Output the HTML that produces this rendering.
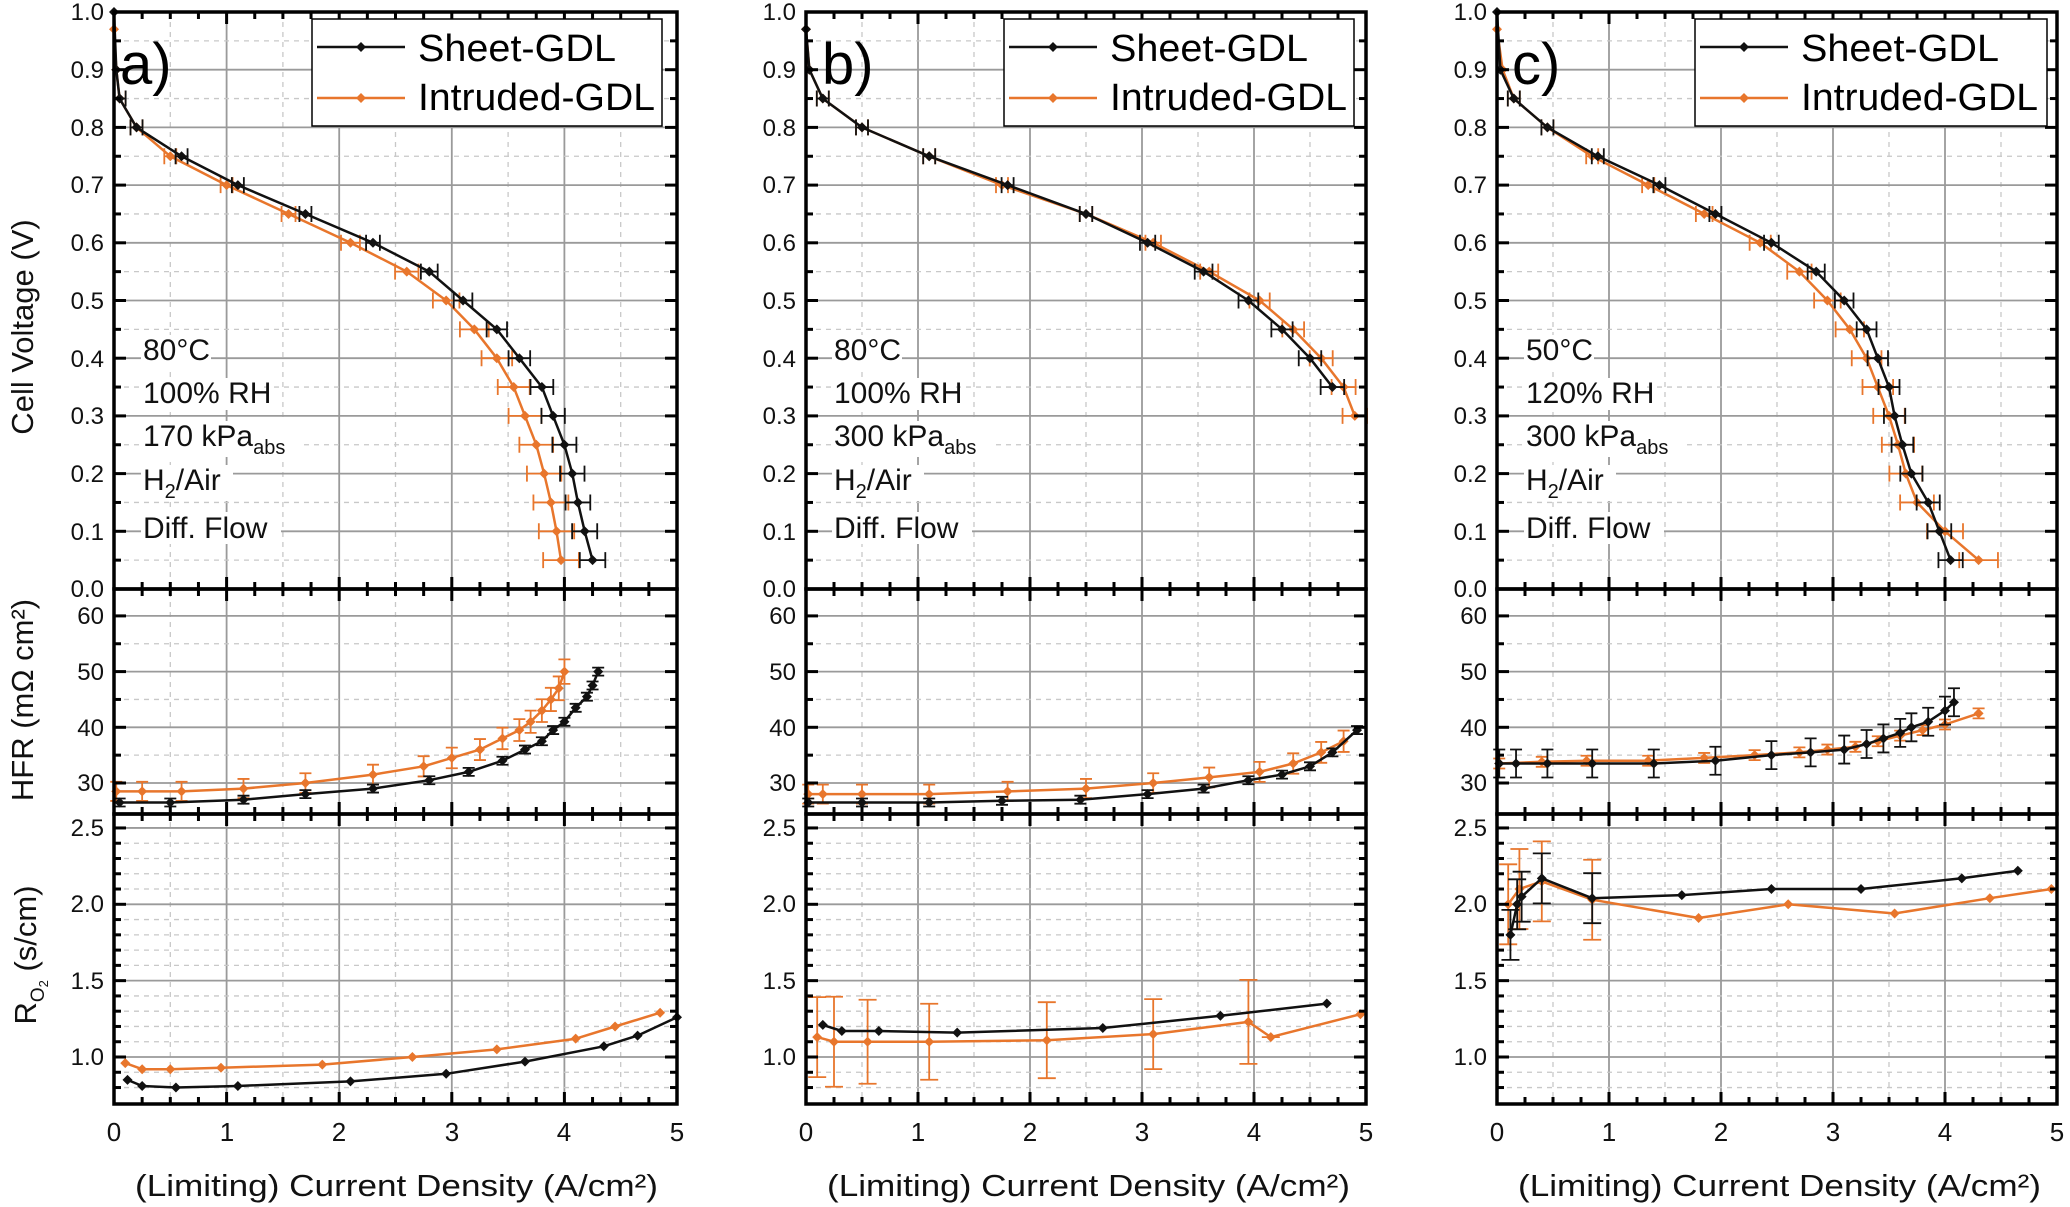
<!DOCTYPE html>
<html><head><meta charset="utf-8"><style>
html,body{margin:0;padding:0;background:#fff;}
svg{display:block;font-family:"Liberation Sans",Arial,sans-serif;}
</style></head><body>
<svg id="s" width="2070" height="1207" viewBox="0 0 2070 1207" xmlns="http://www.w3.org/2000/svg" style="position:absolute;left:0;top:0">
<rect width="2070" height="1207" fill="#fff"/>
<g id="grid"></g>
<g id="data"></g>
<g id="frames"></g>
<g id="txt" font-size="24" fill="#111">
<g text-anchor="end">
<text x="104" y="20">1.0</text><text x="104" y="78">0.9</text><text x="104" y="136">0.8</text><text x="104" y="193">0.7</text><text x="104" y="251">0.6</text><text x="104" y="309">0.5</text><text x="104" y="367">0.4</text><text x="104" y="424">0.3</text><text x="104" y="482">0.2</text><text x="104" y="540">0.1</text><text x="104" y="597">0.0</text>
<text x="104" y="624">60</text><text x="104" y="680">50</text><text x="104" y="736">40</text><text x="104" y="791">30</text>
<text x="104" y="836">2.5</text><text x="104" y="912">2.0</text><text x="104" y="989">1.5</text><text x="104" y="1065">1.0</text>
</g>
<g text-anchor="end">
<text x="796" y="20">1.0</text><text x="796" y="78">0.9</text><text x="796" y="136">0.8</text><text x="796" y="193">0.7</text><text x="796" y="251">0.6</text><text x="796" y="309">0.5</text><text x="796" y="367">0.4</text><text x="796" y="424">0.3</text><text x="796" y="482">0.2</text><text x="796" y="540">0.1</text><text x="796" y="597">0.0</text>
<text x="796" y="624">60</text><text x="796" y="680">50</text><text x="796" y="736">40</text><text x="796" y="791">30</text>
<text x="796" y="836">2.5</text><text x="796" y="912">2.0</text><text x="796" y="989">1.5</text><text x="796" y="1065">1.0</text>
</g>
<g text-anchor="end">
<text x="1487" y="20">1.0</text><text x="1487" y="78">0.9</text><text x="1487" y="136">0.8</text><text x="1487" y="193">0.7</text><text x="1487" y="251">0.6</text><text x="1487" y="309">0.5</text><text x="1487" y="367">0.4</text><text x="1487" y="424">0.3</text><text x="1487" y="482">0.2</text><text x="1487" y="540">0.1</text><text x="1487" y="597">0.0</text>
<text x="1487" y="624">60</text><text x="1487" y="680">50</text><text x="1487" y="736">40</text><text x="1487" y="791">30</text>
<text x="1487" y="836">2.5</text><text x="1487" y="912">2.0</text><text x="1487" y="989">1.5</text><text x="1487" y="1065">1.0</text>
</g>
<g text-anchor="middle" font-size="26">
<text x="114" y="1141">0</text><text x="227" y="1141">1</text><text x="339" y="1141">2</text><text x="452" y="1141">3</text><text x="564" y="1141">4</text><text x="677" y="1141">5</text>
<text x="806" y="1141">0</text><text x="918" y="1141">1</text><text x="1030" y="1141">2</text><text x="1142" y="1141">3</text><text x="1254" y="1141">4</text><text x="1366" y="1141">5</text>
<text x="1497" y="1141">0</text><text x="1609" y="1141">1</text><text x="1721" y="1141">2</text><text x="1833" y="1141">3</text><text x="1945" y="1141">4</text><text x="2057" y="1141">5</text>
</g>
<g font-size="31">
<text x="135" y="1196" textLength="523" lengthAdjust="spacingAndGlyphs">(Limiting) Current Density (A/cm²)</text>
<text x="827" y="1196" textLength="523" lengthAdjust="spacingAndGlyphs">(Limiting) Current Density (A/cm²)</text>
<text x="1518" y="1196" textLength="523" lengthAdjust="spacingAndGlyphs">(Limiting) Current Density (A/cm²)</text>
</g>
<g font-size="31">
<text transform="translate(33,327) rotate(-90)" text-anchor="middle">Cell Voltage (V)</text>
<text transform="translate(33,700) rotate(-90)" text-anchor="middle">HFR (mΩ cm²)</text>
<text transform="translate(36,955) rotate(-90)" text-anchor="middle">R<tspan font-size="19" dy="8">O</tspan><tspan font-size="13" dy="4">2</tspan><tspan dy="-12"> (s/cm)</tspan></text>
</g>
</g>
<g id="ann2" font-family="Liberation Sans, Arial, sans-serif">
<text x="120" y="84" font-size="58">a)</text>
<text x="822" y="84" font-size="58">b)</text>
<text x="1512" y="84" font-size="58">c)</text>
<g>
<rect x="312" y="19" width="350" height="107" fill="#fff" stroke="#000" stroke-width="1.5"/>
<line x1="317" x2="405" y1="47" y2="47" stroke="#111" stroke-width="2.5"/><path d="M361,42L366,47L361,52L356,47Z" fill="#111"/>
<line x1="317" x2="405" y1="98" y2="98" stroke="#E8762C" stroke-width="2.5"/><path d="M361,93L366,98L361,103L356,98Z" fill="#E8762C"/>
<text x="418" y="61" font-size="38" textLength="198" lengthAdjust="spacingAndGlyphs">Sheet-GDL</text>
<text x="418" y="110" font-size="38" textLength="237" lengthAdjust="spacingAndGlyphs">Intruded-GDL</text>
</g>
<g>
<rect x="1004" y="19" width="350" height="107" fill="#fff" stroke="#000" stroke-width="1.5"/>
<line x1="1009" x2="1097" y1="47" y2="47" stroke="#111" stroke-width="2.5"/><path d="M1053,42L1058,47L1053,52L1048,47Z" fill="#111"/>
<line x1="1009" x2="1097" y1="98" y2="98" stroke="#E8762C" stroke-width="2.5"/><path d="M1053,93L1058,98L1053,103L1048,98Z" fill="#E8762C"/>
<text x="1110" y="61" font-size="38" textLength="198" lengthAdjust="spacingAndGlyphs">Sheet-GDL</text>
<text x="1110" y="110" font-size="38" textLength="237" lengthAdjust="spacingAndGlyphs">Intruded-GDL</text>
</g>
<g>
<rect x="1695" y="19" width="352" height="107" fill="#fff" stroke="#000" stroke-width="1.5"/>
<line x1="1700" x2="1788" y1="47" y2="47" stroke="#111" stroke-width="2.5"/><path d="M1744,42L1749,47L1744,52L1739,47Z" fill="#111"/>
<line x1="1700" x2="1788" y1="98" y2="98" stroke="#E8762C" stroke-width="2.5"/><path d="M1744,93L1749,98L1744,103L1739,98Z" fill="#E8762C"/>
<text x="1801" y="61" font-size="38" textLength="198" lengthAdjust="spacingAndGlyphs">Sheet-GDL</text>
<text x="1801" y="110" font-size="38" textLength="237" lengthAdjust="spacingAndGlyphs">Intruded-GDL</text>
</g>
<g fill="#fff">
<rect x="141" y="335" width="70" height="32"/><rect x="141" y="378" width="122" height="32"/><rect x="141" y="421" width="160" height="36"/><rect x="141" y="465" width="92" height="36"/><rect x="141" y="512" width="140" height="32"/>
<rect x="832" y="335" width="70" height="32"/><rect x="832" y="378" width="122" height="32"/><rect x="832" y="421" width="160" height="36"/><rect x="832" y="465" width="92" height="36"/><rect x="832" y="512" width="140" height="32"/>
<rect x="1524" y="335" width="70" height="32"/><rect x="1524" y="378" width="122" height="32"/><rect x="1524" y="421" width="160" height="36"/><rect x="1524" y="465" width="92" height="36"/><rect x="1524" y="512" width="140" height="32"/>
</g>
<g font-size="30" fill="#111">
<text x="143" y="360">80°C</text>
<text x="143" y="403">100% RH</text>
<text x="143" y="446">170 kPa<tspan font-size="20" dy="8">abs</tspan></text>
<text x="143" y="490">H<tspan font-size="20" dy="8">2</tspan><tspan dy="-8">/Air</tspan></text>
<text x="143" y="538">Diff. Flow</text>
<text x="834" y="360">80°C</text>
<text x="834" y="403">100% RH</text>
<text x="834" y="446">300 kPa<tspan font-size="20" dy="8">abs</tspan></text>
<text x="834" y="490">H<tspan font-size="20" dy="8">2</tspan><tspan dy="-8">/Air</tspan></text>
<text x="834" y="538">Diff. Flow</text>
<text x="1526" y="360">50°C</text>
<text x="1526" y="403">120% RH</text>
<text x="1526" y="446">300 kPa<tspan font-size="20" dy="8">abs</tspan></text>
<text x="1526" y="490">H<tspan font-size="20" dy="8">2</tspan><tspan dy="-8">/Air</tspan></text>
<text x="1526" y="538">Diff. Flow</text>
</g>
</g>
</svg>
<script>
(function(){
var NS="http://www.w3.org/2000/svg";
function el(parent,tag,attrs){var e=document.createElementNS(NS,tag);for(var k in attrs)e.setAttribute(k,attrs[k]);parent.appendChild(e);return e;}
var L=[114,806,1497],W=[563,560,560];
var TOP=12,VB=589,HB=814,RB=1104;
function X(p,v){return L[p]+v/5*W[p];}
function Vy(v){return 589-v*577;}
function Hy(v){return 783-(v-30)*5.57;}
function Ry(v){return 1057-(v-1)*152.7;}
var grid=document.getElementById('grid'),data=document.getElementById('data'),fr=document.getElementById('frames');
var gray="#9a9a9a";
for(var p=0;p<3;p++){
  var l=L[p],r=L[p]+W[p];
  for(var i=0;i<=10;i++){var x=X(p,i/2);
    el(grid,'line',{x1:x,x2:x,y1:TOP,y2:RB,stroke:i%2?"#c8c8c8":gray,'stroke-width':i%2?1.3:1.8,'stroke-dasharray':i%2?"5,5":"none"});}
  for(var k=1;k<20;k++){var y=Vy(k*0.05);
    el(grid,'line',{x1:l,x2:r,y1:y,y2:y,stroke:k%2?"#c8c8c8":gray,'stroke-width':k%2?1.3:1.8,'stroke-dasharray':k%2?"5,5":"none"});}
  for(var v=30;v<=60;v+=5){var y=Hy(v);
    el(grid,'line',{x1:l,x2:r,y1:y,y2:y,stroke:v%10?"#c8c8c8":gray,'stroke-width':v%10?1.3:1.8,'stroke-dasharray':v%10?"5,5":"none"});}
  for(var k=8;k<=25;k++){var y=Ry(k/10);if(y>RB-2)continue;var maj=(k%5==0);
    el(grid,'line',{x1:l,x2:r,y1:y,y2:y,stroke:maj?gray:"#c8c8c8",'stroke-width':maj?1.8:1.3,'stroke-dasharray':maj?"none":"5,5"});}
  [[TOP,VB],[VB,HB],[HB,RB]].forEach(function(b){
    el(fr,'rect',{x:l,y:b[0],width:W[p],height:b[1]-b[0],fill:'none',stroke:'#000','stroke-width':3.5});
    for(var j=0;j<=20;j++){var x=l+j*W[p]/20;var len=(j%4==0)?12:7;
      el(fr,'line',{x1:x,x2:x,y1:b[0],y2:b[0]+len,stroke:'#000','stroke-width':3});
      el(fr,'line',{x1:x,x2:x,y1:b[1],y2:b[1]-len,stroke:'#000','stroke-width':3});}
  });
  (function(l,r){
  function yt(y,maj){var len=maj?12:7;
    el(fr,'line',{x1:l,x2:l+len,y1:y,y2:y,stroke:'#000','stroke-width':3});
    el(fr,'line',{x1:r,x2:r-len,y1:y,y2:y,stroke:'#000','stroke-width':3});}
  for(var k=1;k<20;k++)yt(Vy(k*0.05),k%2==0);
  for(var v=30;v<=60;v+=5)yt(Hy(v),v%10==0);
  for(var k=8;k<=25;k++)yt(Ry(k/10),k%5==0);
  })(l,r);
}
var D={
a:{V:[[[0,1.0],[0.02,0.9],[0.05,0.85],[0.2,0.8],[0.6,0.75],[1.1,0.7],[1.7,0.65],[2.3,0.6],[2.8,0.55],[3.1,0.5],[3.4,0.45],[3.6,0.4],[3.8,0.35],[3.9,0.3],[4.0,0.25],[4.07,0.2],[4.12,0.15],[4.18,0.1],[4.25,0.05]],
 [[0,0.97],[0.02,0.9],[0.05,0.85],[0.2,0.8],[0.5,0.75],[1.0,0.7],[1.55,0.65],[2.1,0.6],[2.6,0.55],[2.95,0.5],[3.2,0.45],[3.4,0.4],[3.55,0.35],[3.65,0.3],[3.75,0.25],[3.82,0.2],[3.88,0.15],[3.93,0.1],[3.97,0.05]]],
 H:[[[0.05,26.5],[0.5,26.5],[1.15,27],[1.7,28],[2.3,29],[2.8,30.5],[3.15,32],[3.45,34],[3.65,36],[3.8,37.5],[3.9,39.5],[4.0,41],[4.1,43.5],[4.2,45.5],[4.25,47.5],[4.3,50]],
 [[0.02,28.5],[0.25,28.5],[0.6,28.5],[1.15,29],[1.7,30],[2.3,31.5],[2.75,33],[3.0,34.5],[3.25,36],[3.45,38],[3.6,39.5],[3.7,41],[3.8,43],[3.88,45],[3.95,47],[4.0,50]]],
 R:[[[0.12,0.85],[0.25,0.81],[0.55,0.8],[1.1,0.81],[2.1,0.84],[2.95,0.89],[3.65,0.97],[4.35,1.07],[4.65,1.14],[5,1.26]],
 [[0.1,0.96],[0.25,0.92],[0.5,0.92],[0.95,0.93],[1.85,0.95],[2.65,1.0],[3.4,1.05],[4.1,1.12],[4.45,1.2],[4.85,1.29]]]},
b:{V:[[[0,0.97],[0.03,0.9],[0.15,0.85],[0.5,0.8],[1.1,0.75],[1.8,0.7],[2.5,0.65],[3.05,0.6],[3.55,0.55],[3.95,0.5],[4.25,0.45],[4.5,0.4],[4.7,0.35]],
 [[0,0.97],[0.03,0.9],[0.15,0.85],[0.5,0.8],[1.1,0.75],[1.75,0.7],[2.5,0.65],[3.1,0.6],[3.6,0.55],[4.05,0.5],[4.35,0.45],[4.6,0.4],[4.8,0.35],[4.9,0.3]]],
 H:[[[0.02,26.5],[0.5,26.5],[1.1,26.5],[1.75,26.8],[2.45,27],[3.05,28],[3.55,29],[3.95,30.5],[4.25,31.5],[4.5,33],[4.7,35.5],[4.92,39.5]],
 [[0.02,28],[0.15,28],[0.5,28],[1.1,28],[1.8,28.5],[2.5,29],[3.1,30],[3.6,31],[4.05,32],[4.35,33.5],[4.6,35.5],[4.8,37.5]]],
 R:[[[0.15,1.21],[0.32,1.17],[0.65,1.17],[1.35,1.16],[2.65,1.19],[3.7,1.27],[4.65,1.35]],
 [[0.1,1.13],[0.25,1.1],[0.55,1.1],[1.1,1.1],[2.15,1.11],[3.1,1.15],[3.95,1.23],[4.15,1.13],[4.95,1.28]]]},
c:{V:[[[0,1.0],[0.03,0.9],[0.15,0.85],[0.45,0.8],[0.9,0.75],[1.45,0.7],[1.95,0.65],[2.45,0.6],[2.85,0.55],[3.1,0.5],[3.3,0.45],[3.4,0.4],[3.5,0.35],[3.55,0.3],[3.62,0.25],[3.7,0.2],[3.85,0.15],[3.95,0.1],[4.05,0.05]],
 [[0,0.97],[0.05,0.9],[0.15,0.85],[0.45,0.8],[0.85,0.75],[1.35,0.7],[1.85,0.65],[2.35,0.6],[2.7,0.55],[2.95,0.5],[3.15,0.45],[3.3,0.4],[3.4,0.35],[3.5,0.3],[3.58,0.25],[3.65,0.2],[3.75,0.15],[4.0,0.1],[4.3,0.05]]],
 H:[[[0.02,33.5],[0.17,33.5],[0.45,33.5],[0.85,33.5],[1.4,33.5],[1.95,34],[2.45,35],[2.8,35.5],[3.1,36],[3.3,37],[3.45,38],[3.6,39],[3.7,40],[3.85,41],[4.0,43],[4.08,44.5]],
 [[0.02,33.5],[0.4,33.8],[0.8,34],[1.35,34],[1.85,34.5],[2.3,35],[2.7,35.5],[2.95,36],[3.2,36.5],[3.4,37.5],[3.6,38.5],[3.8,39.5],[4.0,40.5],[4.3,42.5]]],
 R:[[[0.12,1.8],[0.18,2.0],[0.22,2.05],[0.4,2.17],[0.85,2.04],[1.65,2.06],[2.45,2.1],[3.25,2.1],[4.15,2.17],[4.65,2.22]],
 [[0.1,2.0],[0.2,2.1],[0.4,2.15],[0.85,2.03],[1.8,1.91],[2.6,2.0],[3.55,1.94],[4.4,2.04],[4.95,2.1]]]}
};
var cols=["#111","#E8762C"];
["a","b","c"].forEach(function(key,p){
  var d=D[key];
  [["V",Vy],["H",Hy],["R",Ry]].forEach(function(t){
    var fy=t[1];
    for(var s=1;s>=0;s--){
      var pts=d[t[0]][s];var c=cols[s];
      var path="";pts.forEach(function(q,i){path+=(i?"L":"M")+X(p,q[0]).toFixed(1)+","+fy(q[1]).toFixed(1);});
      el(data,'path',{d:path,fill:'none',stroke:c,'stroke-width':2.5,'stroke-linejoin':'round'});
      pts.forEach(function(q,i){
        var x=X(p,q[0]),y=fy(q[1]);
        if(t[0]=="V"&&q[1]<0.88){var e=Math.max(6,(q[0]/4)*(key=="b"?10:(s?18:12)));
          el(data,'path',{d:"M"+(x-e)+","+y+"H"+(x+e)+"M"+(x-e)+","+(y-8)+"V"+(y+8)+"M"+(x+e)+","+(y-8)+"V"+(y+8),stroke:c,'stroke-width':1.8,fill:'none'});}
        if(t[0]=="H"){var e=(key=="c")?(s?5:14):(s?6+q[1]/8:4);
          el(data,'path',{d:"M"+x+","+(y-e)+"V"+(y+e)+"M"+(x-6)+","+(y-e)+"H"+(x+6)+"M"+(x-6)+","+(y+e)+"H"+(x+6),stroke:c,'stroke-width':1.8,fill:'none'});}
        if(t[0]=="R"&&key=="b"&&s==1&&i<8){var e=[40,45,42,38,38,35,42,0][i];
          el(data,'path',{d:"M"+x+","+(y-e)+"V"+(y+e)+"M"+(x-9)+","+(y-e)+"H"+(x+9)+"M"+(x-9)+","+(y+e)+"H"+(x+9),stroke:c,'stroke-width':1.8,fill:'none'});}
        if(t[0]=="R"&&key=="c"&&q[0]<1){var e=s?40:25;
          el(data,'path',{d:"M"+x+","+(y-e)+"V"+(y+e)+"M"+(x-9)+","+(y-e)+"H"+(x+9)+"M"+(x-9)+","+(y+e)+"H"+(x+9),stroke:c,'stroke-width':1.8,fill:'none'});}
        el(data,'path',{d:"M"+x+","+(y-5)+"L"+(x+5)+","+y+"L"+x+","+(y+5)+"L"+(x-5)+","+y+"Z",fill:c});
      });
    }
  });
});
var svg=document.getElementById('s');
svg.appendChild(fr);
svg.appendChild(document.getElementById('ann2'));
svg.appendChild(document.getElementById('txt'));
})();
</script>
</body></html>
